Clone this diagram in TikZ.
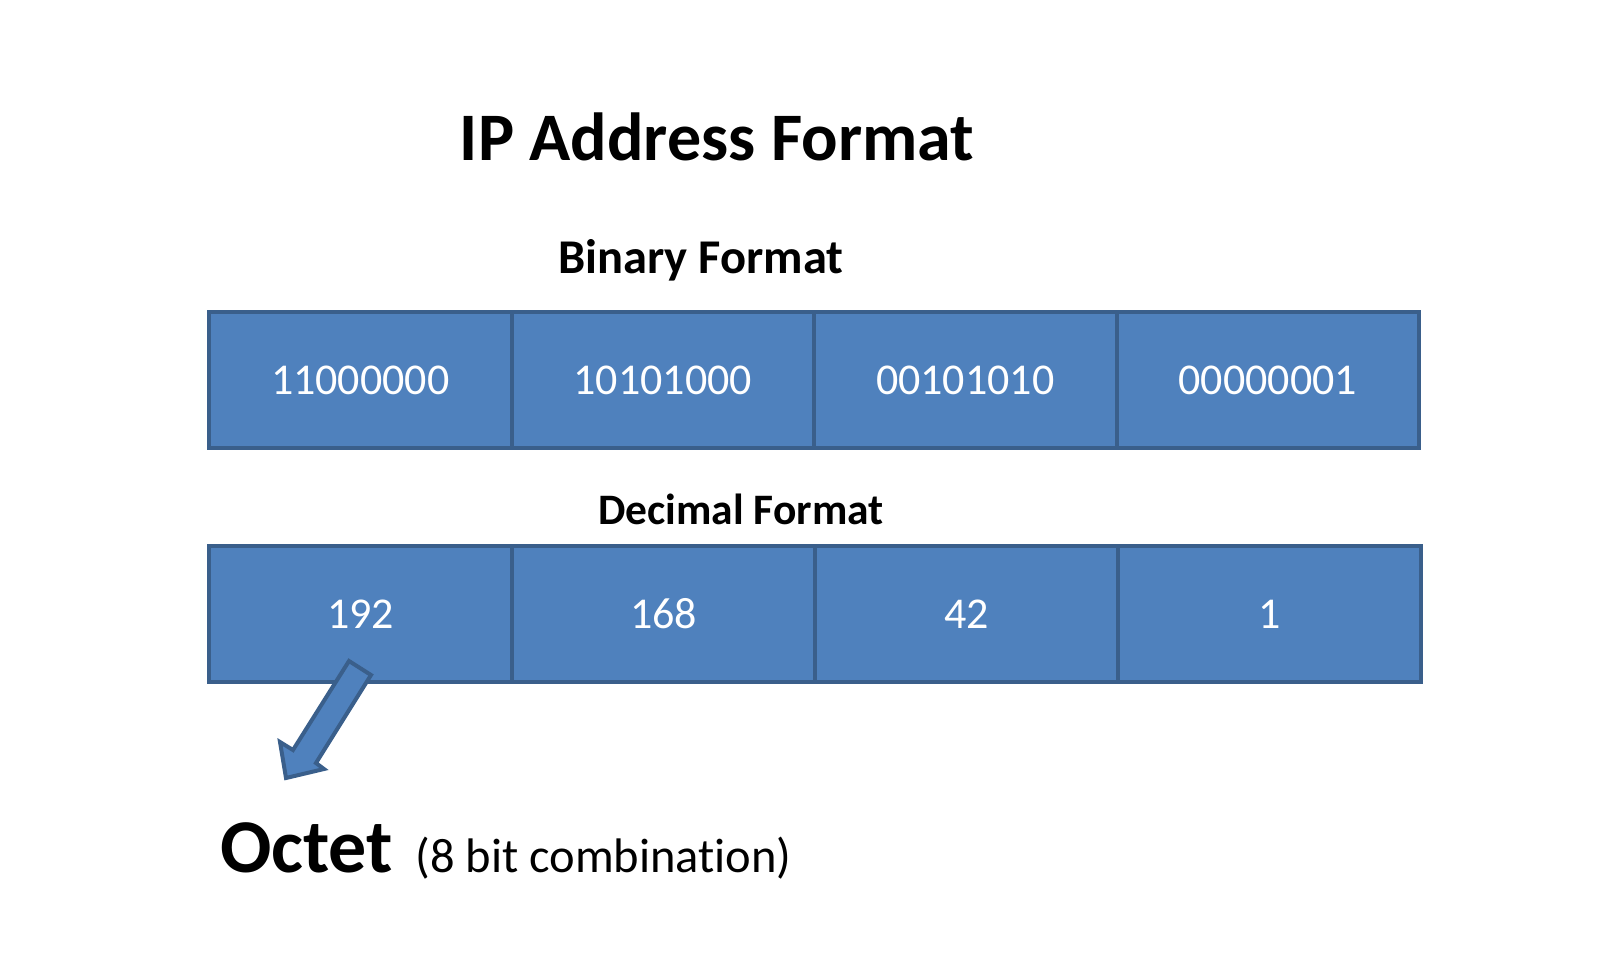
\documentclass[tikz,border=0pt]{standalone}
\usepackage{fontspec}
\setmainfont{Carlito}[Ligatures=NoCommon]
\usetikzlibrary{positioning}
\definecolor{cellfill}{HTML}{4F81BD}
\definecolor{celledge}{HTML}{3A5F8B}

\begin{document}
\begin{tikzpicture}[x=1pt,y=-1pt,
    cellbox/.style={draw=celledge, fill=cellfill, line width=4pt, text=white,
      minimum height=136pt, inner sep=0pt, outer sep=0pt,
      font=\fontsize{44}{52}\selectfont},
    boldtext/.style={inner sep=0pt, anchor=base,
      font=\bfseries\fontsize{#1}{#1}\selectfont}]
  \useasboundingbox (0,0) rectangle (1600,959);

  \node[boldtext=68] (title) at (717,160) {IP Address Format};

  % binary row
  \node[boldtext=48.5] (binlabel) at (701,273) {Binary Format};
  \node[cellbox, minimum width=302.5pt] (b1) at (360.25,380) {11000000};
  \node[cellbox, minimum width=302.5pt, right=0pt of b1] (b2) {10101000};
  \node[cellbox, minimum width=302.5pt, right=0pt of b2] (b3) {00101010};
  \node[cellbox, minimum width=302.5pt, right=0pt of b3] (b4) {00000001};

  % decimal row
  \node[boldtext=43.5] (declabel) at (741,524) {Decimal Format};
  \node[cellbox, minimum width=303pt] (d1) at (360.5,614) {192};
  \node[cellbox, minimum width=303pt, right=0pt of d1] (d2) {168};
  \node[cellbox, minimum width=303pt, right=0pt of d2] (d3) {42};
  \node[cellbox, minimum width=303pt, right=0pt of d3] (d4) {1};

  % block arrow
  \draw[draw=celledge, fill=cellfill, line width=4pt, line join=miter]
    (349,661) -- (371,675) -- (316,763) -- (324,769) -- (286,778)
    -- (280,742) -- (293,750) -- cycle;

  \node[boldtext=76, anchor=base west] (octet) at (220,872) {Octet};
  \node[right=22pt of octet.base east, anchor=base west, inner sep=0pt,
    font=\fontsize{48.5}{48.5}\selectfont] (octetnote) {(8 bit combination)};
\end{tikzpicture}
\end{document}
